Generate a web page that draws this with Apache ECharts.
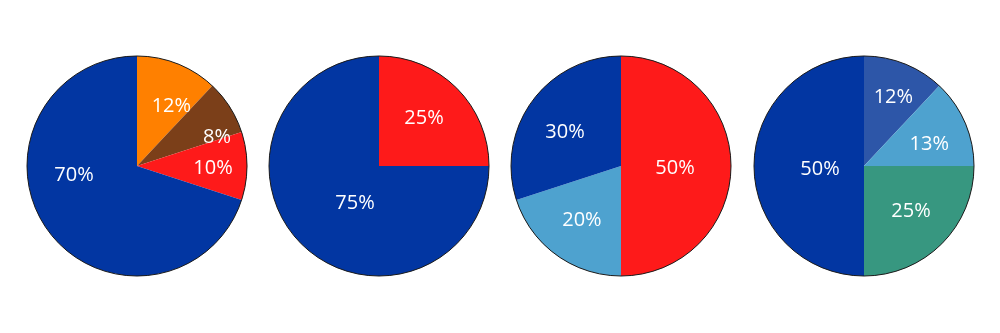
<!DOCTYPE html>
<html><head><meta charset="utf-8">
<script src="https://cdn.jsdelivr.net/npm/echarts@6/dist/echarts.min.js"></script>
<style>html,body{margin:0;padding:0;background:#fff}#c{width:1000px;height:333px}</style>
</head><body><div id="c"></div>
<script>
// Pie 1
const pie1Labels = ['12%', '8%', '10%', '70%'];
const pie1Values = [12, 8, 10, 70];
const pie1Colors = ['#ff8000', '#7b3f19', '#fe1a1a', '#0236a2'];
// Pie 2
const pie2Labels = ['25%', '75%'];
const pie2Values = [25, 75];
const pie2Colors = ['#fe1a1a', '#0236a2'];
// Pie 3
const pie3Labels = ['50%', '20%', '30%'];
const pie3Values = [50, 20, 30];
const pie3Colors = ['#fe1a1a', '#4ea2cf', '#0236a2'];
// Pie 4
const pie4Labels = ['12%', '13%', '25%', '50%'];
const pie4Values = [12, 13, 25, 50];
const pie4Colors = ['#2d56a8', '#4ea2cf', '#379780', '#0236a2'];

// label nudges (px) from the default inside position
const pie1LabelNudge = [[13, -6], [31, 2], [18, 2], [-16, -25]];
const pie2LabelNudge = [[4, -7], [17, -4]];
const pie3LabelNudge = [[-4, 2], [-5, 7], [-9, 0]];
const pie4LabelNudge = [[8, -15], [12, 1], [6, 4], [14, 3]];

const pies = [
  {labels: pie1Labels, values: pie1Values, colors: pie1Colors, nudge: pie1LabelNudge, center: [137, 166]},
  {labels: pie2Labels, values: pie2Values, colors: pie2Colors, nudge: pie2LabelNudge, center: [379, 166]},
  {labels: pie3Labels, values: pie3Values, colors: pie3Colors, nudge: pie3LabelNudge, center: [621, 166]},
  {labels: pie4Labels, values: pie4Values, colors: pie4Colors, nudge: pie4LabelNudge, center: [864, 166]}
];
const R = 110;
const series = [];
pies.forEach(p => {
  series.push({
    type: 'pie', center: p.center, radius: R, startAngle: 90, clockwise: true,
    silent: true, animation: false,
    label: {show: true, position: 'inside', formatter: '{b}', color: '#fff',
            fontFamily: 'Open Sans', fontSize: 20, textBorderWidth: 0},
    labelLine: {show: false},
    itemStyle: {borderWidth: 0},
    emphasis: {disabled: true},
    data: p.values.map((v, i) => ({name: p.labels[i], value: v,
      itemStyle: {color: p.colors[i]}, label: {offset: p.nudge[i]}}))
  });
  series.push({
    type: 'pie', center: p.center, radius: R, silent: true, animation: false,
    label: {show: false}, labelLine: {show: false}, emphasis: {disabled: true},
    itemStyle: {color: 'rgba(0,0,0,0)', borderColor: '#1a1a1a', borderWidth: 1},
    data: [{value: 1, name: ''}]
  });
});
const chart = echarts.init(document.getElementById('c'), null, {renderer: 'canvas'});
chart.setOption({backgroundColor: '#fff', tooltip: {show: false}, series});
</script></body></html>
